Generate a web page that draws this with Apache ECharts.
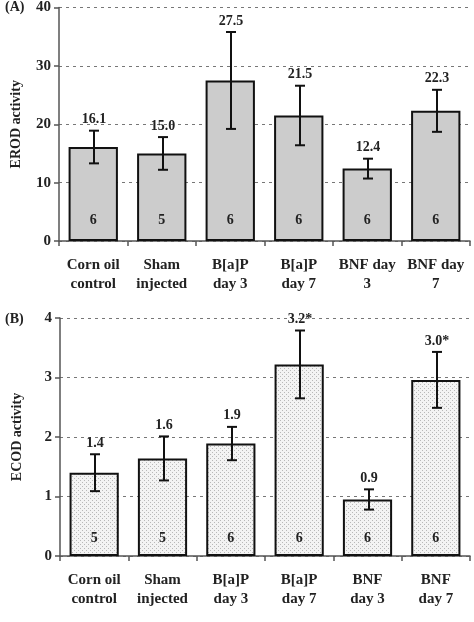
<!DOCTYPE html>
<html>
<head>
<meta charset="utf-8">
<script src="https://cdn.jsdelivr.net/npm/echarts@6/dist/echarts.min.js"></script>
<style>
  html, body { margin: 0; padding: 0; background: #fff; }
  #chart { width: 474px; height: 622px; }
</style>
</head>
<body>
<div id="chart"></div>
<script>
var categoriesA = ['Corn oil\ncontrol', 'Sham\ninjected', 'B[a]P\nday 3', 'B[a]P\nday 7', 'BNF day\n3', 'BNF day\n7'];
var categoriesB = ['Corn oil\ncontrol', 'Sham\ninjected', 'B[a]P\nday 3', 'B[a]P\nday 7', 'BNF\nday 3', 'BNF\nday 7'];

var erodMean = [16.1, 15.0, 27.5, 21.5, 12.4, 22.3];
var erodErr = [2.8, 2.8, 8.3, 5.1, 1.7, 3.6];
var erodLabels = ['16.1', '15.0', '27.5', '21.5', '12.4', '22.3'];
var erodN = [6, 5, 6, 6, 6, 6];

var ecodMean = [1.4, 1.64, 1.89, 3.22, 0.95, 2.96];
var ecodErr = [0.31, 0.37, 0.28, 0.57, 0.17, 0.47];
var ecodLabels = ['1.4', '1.6', '1.9', '3.2*', '0.9', '3.0*'];
var ecodN = [5, 5, 6, 6, 6, 6];

var font = 'Liberation Serif';

// stipple fill for panel B
var pat = document.createElement('canvas');
pat.width = 4; pat.height = 4;
var pc = pat.getContext('2d');
pc.fillStyle = '#f3f3f3';
pc.fillRect(0, 0, 4, 4);
pc.fillStyle = '#b8b8b8';
pc.fillRect(0, 0, 1, 1);
pc.fillRect(2, 2, 1, 1);

function errData(mean, err) {
    return mean.map(function (m, i) { return [i, m - err[i], m + err[i]]; });
}

function errSeries(idx, mean, err, labels) {
    return {
        type: 'custom',
        xAxisIndex: idx,
        yAxisIndex: idx,
        data: errData(mean, err),
        z: 5,
        renderItem: function (params, api) {
            var lo = api.coord([api.value(0), api.value(1)]);
            var hi = api.coord([api.value(0), api.value(2)]);
            var x = Math.round(lo[0]) + 1;
            var st = { stroke: '#111', lineWidth: 2 };
            return {
                type: 'group',
                children: [
                    { type: 'line', shape: { x1: x, y1: lo[1], x2: x, y2: hi[1] }, style: st },
                    { type: 'line', shape: { x1: x - 5, y1: lo[1], x2: x + 5, y2: lo[1] }, style: st },
                    { type: 'line', shape: { x1: x - 5, y1: hi[1], x2: x + 5, y2: hi[1] }, style: st },
                    {
                        type: 'text',
                        style: {
                            x: x, y: hi[1] - 4,
                            text: labels[params.dataIndex],
                            align: 'center', verticalAlign: 'bottom',
                            font: 'bold 14px "' + font + '"',
                            fill: '#222'
                        }
                    }
                ]
            };
        }
    };
}

function xAxisFor(idx, cats) {
    return {
        type: 'category',
        gridIndex: idx,
        data: cats,
        axisLine: { lineStyle: { color: '#555', width: 1.5 } },
        axisTick: { show: true, length: 5, lineStyle: { color: '#555', width: 1.5 } },
        axisLabel: {
            interval: 0,
            margin: 15,
            fontFamily: font,
            fontWeight: 'bold',
            fontSize: 15,
            lineHeight: 19,
            color: '#222'
        }
    };
}

function yAxisFor(idx, name, max, interval) {
    return {
        type: 'value',
        gridIndex: idx,
        min: 0,
        max: max,
        interval: interval,
        name: name,
        nameLocation: 'middle',
        nameGap: 36,
        nameTextStyle: { fontFamily: font, fontWeight: 'bold', fontSize: 14, color: '#222' },
        axisLine: { show: true, lineStyle: { color: '#555', width: 1.5 } },
        axisTick: { show: true, length: 5, lineStyle: { color: '#555', width: 1.5 } },
        axisLabel: { fontFamily: font, fontWeight: 'bold', fontSize: 15, color: '#222', margin: 8 },
        splitLine: { lineStyle: { color: '#777', type: [3, 4], width: 1 } }
    };
}

function nLabel(arr, dist) {
    return {
        show: true,
        position: 'insideBottom',
        distance: dist,
        formatter: function (p) { return String(arr[p.dataIndex]); },
        fontFamily: font,
        fontWeight: 'bold',
        fontSize: 14,
        color: '#222'
    };
}

var chart = echarts.init(document.getElementById('chart'));
var option = {
    animation: false,
    grid: [
        { left: 59, right: 4, top: 6, height: 235 },
        { left: 60, right: 4, top: 318, height: 238 }
    ],
    xAxis: [xAxisFor(0, categoriesA), xAxisFor(1, categoriesB)],
    yAxis: [yAxisFor(0, 'EROD activity', 40, 10), yAxisFor(1, 'ECOD activity', 4, 1)],
    graphic: [
        { type: 'text', left: 5, top: 0, style: { text: '(A)', font: 'bold 14px "' + font + '"', fill: '#222' } },
        { type: 'text', left: 5, top: 312, style: { text: '(B)', font: 'bold 14px "' + font + '"', fill: '#222' } }
    ],
    series: [
        {
            type: 'bar',
            xAxisIndex: 0,
            yAxisIndex: 0,
            data: erodMean,
            barWidth: '72%',
            itemStyle: { color: '#cccccc', borderColor: '#111', borderWidth: 2 },
            label: nLabel(erodN, 14)
        },
        {
            type: 'bar',
            xAxisIndex: 1,
            yAxisIndex: 1,
            data: ecodMean,
            barWidth: '72%',
            itemStyle: { color: { image: pat, repeat: 'repeat' }, borderColor: '#111', borderWidth: 2 },
            label: nLabel(ecodN, 11)
        },
        errSeries(0, erodMean, erodErr, erodLabels),
        errSeries(1, ecodMean, ecodErr, ecodLabels)
    ]
};
option && chart.setOption(option);
</script>
</body>
</html>
